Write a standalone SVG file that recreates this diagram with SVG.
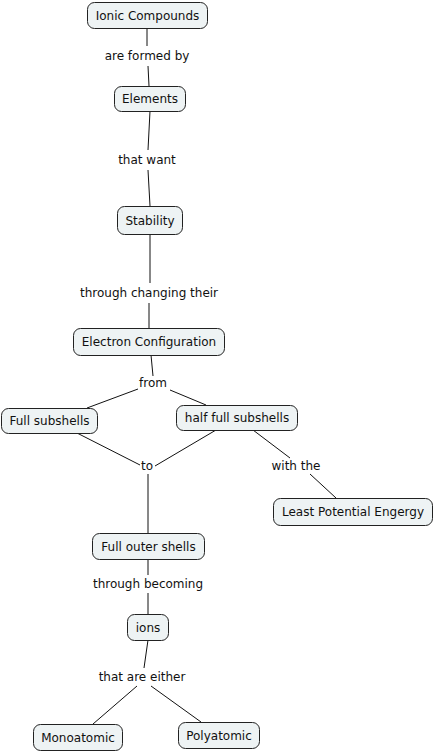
<svg xmlns="http://www.w3.org/2000/svg" width="434" height="752" viewBox="0 0 434 752">
<style>
.n rect{fill:#eef3f4;stroke:#222;stroke-width:1}
text{font-family:"DejaVu Sans",Verdana,sans-serif;font-size:12px;fill:#111;text-anchor:middle;dominant-baseline:central}
.c line{stroke:#111;stroke-width:1}
</style>
<rect width="434" height="752" fill="#fff"/>
<g class="c" id="connectors">
<line x1="147" y1="28" x2="147" y2="46"/>
<line x1="148" y1="66" x2="149" y2="86"/>
<line x1="150" y1="111" x2="148" y2="150"/>
<line x1="148" y1="170" x2="150" y2="206"/>
<line x1="150" y1="234" x2="150" y2="283"/>
<line x1="149" y1="303" x2="149" y2="328"/>
<line x1="151" y1="355" x2="153" y2="376"/>
<line x1="138" y1="389" x2="87" y2="408"/>
<line x1="170" y1="390" x2="206" y2="405"/>
<line x1="77" y1="433" x2="140" y2="465"/>
<line x1="216" y1="430" x2="155" y2="466"/>
<line x1="148" y1="474" x2="148" y2="533"/>
<line x1="253" y1="430" x2="290" y2="458"/>
<line x1="310" y1="474" x2="336" y2="498"/>
<line x1="148" y1="559" x2="148" y2="575"/>
<line x1="148" y1="593" x2="148" y2="614"/>
<line x1="148" y1="640" x2="144" y2="668"/>
<line x1="137" y1="686" x2="93" y2="724"/>
<line x1="151" y1="686" x2="201" y2="722"/>
</g>
<g id="labels">
<text x="147" y="56">are formed by</text>
<text x="147" y="160">that want</text>
<text x="149" y="293">through changing their</text>
<text x="153" y="383">from</text>
<text x="147" y="466">to</text>
<text x="296" y="466">with the</text>
<text x="148" y="584">through becoming</text>
<text x="142" y="677">that are either</text>
</g>
<g class="n" id="ionic"><rect x="87.5" y="2.5" width="120" height="26" rx="7"/><text x="147.5" y="15.5">Ionic Compounds</text></g>
<g class="n" id="elements"><rect x="114.5" y="86.5" width="71" height="25" rx="7"/><text x="150" y="99">Elements</text></g>
<g class="n" id="stability"><rect x="117.5" y="206.5" width="65" height="28" rx="7"/><text x="150" y="220.5">Stability</text></g>
<g class="n" id="econfig"><rect x="73.5" y="328.5" width="151" height="27" rx="7"/><text x="149" y="342">Electron Configuration</text></g>
<g class="n" id="fullsub"><rect x="1.5" y="408.5" width="96" height="25" rx="7"/><text x="49.5" y="421">Full subshells</text></g>
<g class="n" id="halfsub"><rect x="176.5" y="405.5" width="121" height="25" rx="7"/><text x="237" y="418">half full subshells</text></g>
<g class="n" id="least"><rect x="273.5" y="498.5" width="159" height="27" rx="7"/><text x="353" y="512">Least Potential Engergy</text></g>
<g class="n" id="fullouter"><rect x="92.5" y="533.5" width="112" height="26" rx="7"/><text x="148.5" y="546.5">Full outer shells</text></g>
<g class="n" id="ions"><rect x="127.5" y="614.5" width="41" height="26" rx="7"/><text x="148" y="627.5">ions</text></g>
<g class="n" id="mono"><rect x="33.5" y="724.5" width="89" height="26" rx="7"/><text x="78" y="737.5">Monoatomic</text></g>
<g class="n" id="poly"><rect x="178.5" y="722.5" width="81" height="26" rx="7"/><text x="219" y="735.5">Polyatomic</text></g>
</svg>
